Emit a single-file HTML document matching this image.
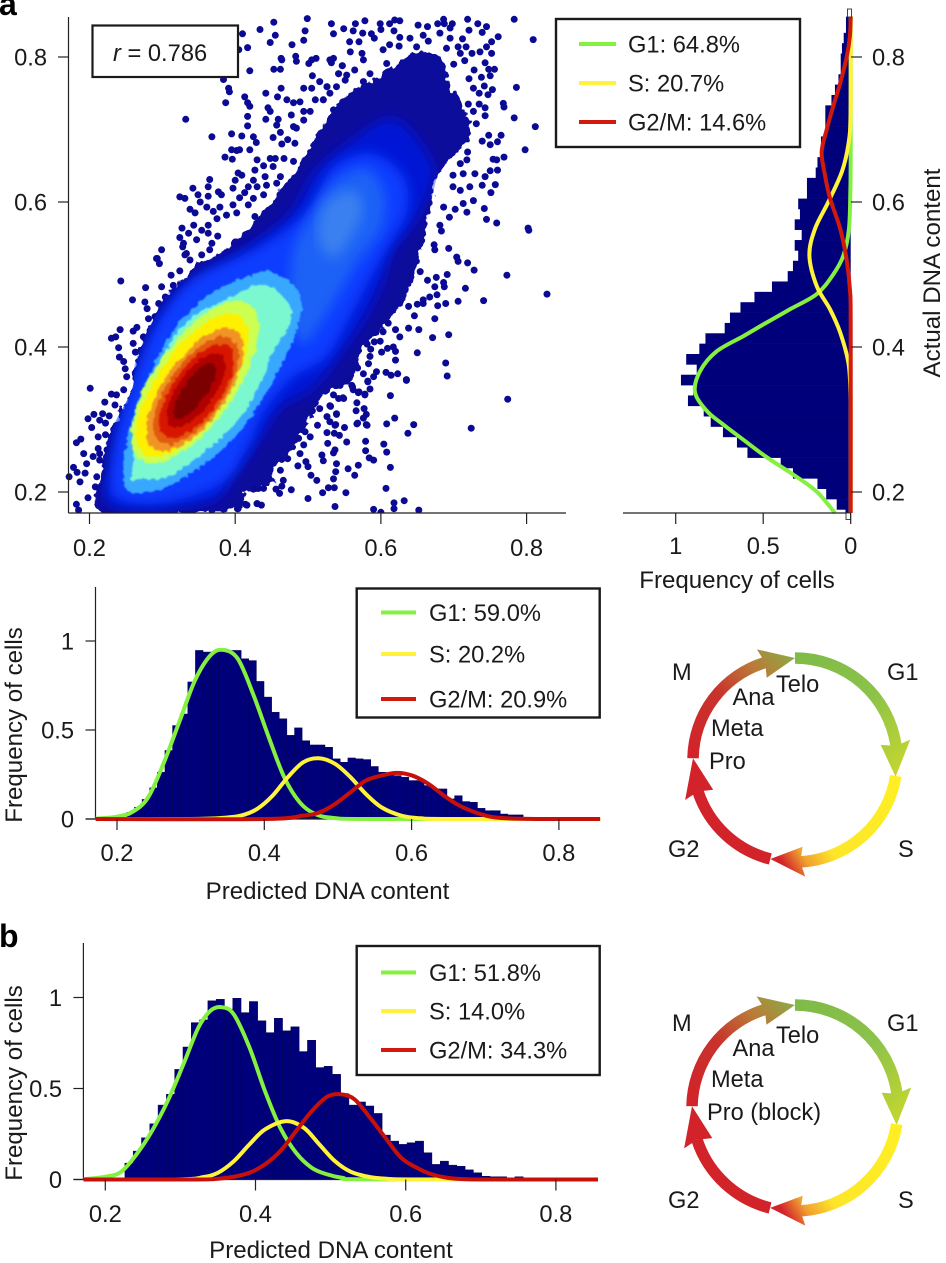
<!DOCTYPE html>
<html lang="en">
<head>
<meta charset="utf-8">
<title>DNA content prediction</title>
<style>
html,body{margin:0;padding:0;background:#fff;width:946px;height:1263px;overflow:hidden}
svg{display:block}
text{font-family:"Liberation Sans",Arial,sans-serif;fill:#1a1a1a;font-size:23.7px}
.title{font-size:24.1px}
.phase{font-size:23.6px}
</style>
</head>
<body>
<svg id="figure" xmlns="http://www.w3.org/2000/svg" width="946" height="1263" viewBox="0 0 946 1263">
<defs>
<filter id="bumpy" x="-5%" y="-5%" width="110%" height="110%">
<feTurbulence type="fractalNoise" baseFrequency="0.22" numOctaves="1" seed="4" result="n"/>
<feDisplacementMap in="SourceGraphic" in2="n" scale="7" xChannelSelector="R" yChannelSelector="G"/>
<feGaussianBlur stdDeviation="0.7"/>
</filter>
<filter id="rough" x="-5%" y="-5%" width="110%" height="110%">
<feTurbulence type="fractalNoise" baseFrequency="0.13" numOctaves="2" seed="9" result="n"/>
<feDisplacementMap in="SourceGraphic" in2="n" scale="11" xChannelSelector="R" yChannelSelector="G"/>
</filter>
<filter id="softer" x="-10%" y="-10%" width="120%" height="120%"><feGaussianBlur stdDeviation="6"/></filter>
<clipPath id="scatterClip"><rect x="60" y="10" width="510" height="503"/></clipPath>
<clipPath id="marginClip"><rect x="620" y="16.6" width="232" height="496.4"/></clipPath>
<clipPath id="massClip"></clipPath>
<linearGradient id="gradG1" gradientUnits="userSpaceOnUse" x1="0" y1="-102" x2="100" y2="17"><stop offset="0" stop-color="#7fbb47"/><stop offset=".5" stop-color="#8cc24a"/><stop offset="1" stop-color="#c4d62f"/></linearGradient>
<linearGradient id="gradS" gradientUnits="userSpaceOnUse" x1="100" y1="20" x2="-25" y2="100"><stop offset="0" stop-color="#ffee24"/><stop offset=".62" stop-color="#fde62a"/><stop offset=".8" stop-color="#f0a030"/><stop offset=".94" stop-color="#d2232a"/></linearGradient>
<linearGradient id="gradM" gradientUnits="userSpaceOnUse" x1="-100" y1="0" x2="0" y2="-102"><stop offset="0" stop-color="#d2232a"/><stop offset=".45" stop-color="#c8332c"/><stop offset=".75" stop-color="#bb7a38"/><stop offset="1" stop-color="#8fa845"/></linearGradient>
</defs>

<text x="-1" y="15" style="font-size:32px;font-weight:bold;fill:#000">a</text>
<text x="-1" y="947" style="font-size:32px;font-weight:bold;fill:#000">b</text>

<g id="scatterPanel"></g>
<g id="marginPanel"></g>
<g id="histA"></g>
<g id="histB"></g>
<g id="cycleA" transform="translate(795 760)"></g>
<g id="cycleB" transform="translate(795 1108)"></g>

<g>
<rect x="92.5" y="25.5" width="145.5" height="51.5" fill="#fff" stroke="#1a1a1a" stroke-width="2.2"/>
<text x="113" y="61"><tspan font-style="italic">r</tspan> = 0.786</text>
</g>
<g>
<text class="title" x="0" y="0" text-anchor="middle" transform="translate(940 273) rotate(-90)">Actual DNA content</text>
<text class="title" x="737" y="588" text-anchor="middle">Frequency of cells</text>
<text class="title" x="327.5" y="899" text-anchor="middle">Predicted DNA content</text>
<text class="title" x="331" y="1258" text-anchor="middle">Predicted DNA content</text>
<text class="title" x="0" y="0" text-anchor="middle" transform="translate(22 725) rotate(-90)">Frequency of cells</text>
<text class="title" x="0" y="0" text-anchor="middle" transform="translate(22 1083) rotate(-90)">Frequency of cells</text>
</g>

<g>
<rect x="556" y="19" width="244" height="128" fill="#fff" stroke="#1a1a1a" stroke-width="2.4"/>
<line x1="579" x2="616" y1="44" y2="44" stroke="#84f040" stroke-width="4"/><text x="628" y="52.5">G1: 64.8%</text>
<line x1="579" x2="616" y1="83" y2="83" stroke="#fff23a" stroke-width="4"/><text x="628" y="91.5">S: 20.7%</text>
<line x1="579" x2="616" y1="122" y2="122" stroke="#d21a0c" stroke-width="4"/><text x="628" y="130.5">G2/M: 14.6%</text>
</g>
<g>
<rect x="356.7" y="588.5" width="243" height="129" fill="#fff" stroke="#1a1a1a" stroke-width="2.4"/>
<line x1="381" x2="416" y1="612.5" y2="612.5" stroke="#84f040" stroke-width="4"/><text x="429" y="621">G1: 59.0%</text>
<line x1="381" x2="416" y1="654" y2="654" stroke="#fff23a" stroke-width="4"/><text x="429" y="662.5">S: 20.2%</text>
<line x1="381" x2="416" y1="699" y2="699" stroke="#d21a0c" stroke-width="4"/><text x="429" y="707.5">G2/M: 20.9%</text>
</g>
<g>
<rect x="356.7" y="946" width="243" height="129" fill="#fff" stroke="#1a1a1a" stroke-width="2.4"/>
<line x1="381" x2="416" y1="972.5" y2="972.5" stroke="#84f040" stroke-width="4"/><text x="429" y="981">G1: 51.8%</text>
<line x1="381" x2="416" y1="1011" y2="1011" stroke="#fff23a" stroke-width="4"/><text x="429" y="1019.5">S: 14.0%</text>
<line x1="381" x2="416" y1="1050" y2="1050" stroke="#d21a0c" stroke-width="4"/><text x="429" y="1058.5">G2/M: 34.3%</text>
</g>

<g>
<text class="phase" x="672" y="680">M</text>
<text class="phase" x="887" y="680">G1</text>
<text class="phase" x="732.5" y="705">Ana</text>
<text class="phase" x="776" y="692">Telo</text>
<text class="phase" x="711" y="736">Meta</text>
<text class="phase" x="709" y="769">Pro</text>
<text class="phase" x="668" y="857">G2</text>
<text class="phase" x="898" y="857">S</text>
</g>
<g>
<text class="phase" x="672" y="1031">M</text>
<text class="phase" x="887" y="1031">G1</text>
<text class="phase" x="732.5" y="1056">Ana</text>
<text class="phase" x="776" y="1043">Telo</text>
<text class="phase" x="711" y="1087">Meta</text>
<text class="phase" x="707" y="1120">Pro (block)</text>
<text class="phase" x="668" y="1208">G2</text>
<text class="phase" x="898" y="1208">S</text>
</g>
</svg>

<script>
/* ---------- scatter data: [predicted, actual] ---------- */
const scatterTopPoints = [[.532,.846],[.535,.832],[.549,.839],[.562,.836],[.565,.846],[.578,.850],[.575,.833],[.587,.832],[.591,.826],[.599,.846],[.600,.838],[.612,.846],[.619,.851],[.626,.850],[.618,.836],[.626,.827],[.640,.826],[.651,.844],[.664,.842],[.678,.846],[.686,.852],[.687,.846],[.698,.846],[.695,.840],[.719,.852],[.721,.837],[.733,.846],[.745,.842],[.739,.834],[.761,.828],[.752,.821],[.783,.852],[.809,.824],[.557,.821],[.570,.821],[.558,.807],[.603,.810],[.612,.817],[.649,.814],[.658,.830],[.681,.833],[.695,.826],[.712,.825],[.745,.814],[.717,.814],[.706,.814],[.709,.805],[.725,.805],[.736,.807],[.752,.805],[.743,.792],[.748,.783],[.756,.783],[.750,.774],[.738,.772],[.721,.770],[.742,.760],[.753,.755],[.727,.757],[.747,.748],[.786,.758],[.768,.736],[.769,.731],[.743,.730],[.783,.716],[.727,.725],[.743,.719],[.812,.704],[.731,.708],[.748,.692],[.765,.692],[.739,.684],[.750,.679],[.760,.683],[.798,.672],[.754,.659],[.759,.658],[.769,.662],[.719,.669],[.750,.643],[.760,.644],[.743,.635],[.722,.621],[.739,.623],[.757,.624],[.751,.613],[.727,.602],[.742,.591],[.745,.576],[.759,.571],[.802,.564],[.535,.798],[.547,.788],[.530,.796],[.542,.777],[.553,.775],[.551,.768],[.539,.759],[.526,.759],[.521,.741],[.535,.727],[.574,.805],[.576,.796],[.564,.782],[.585,.777],[.576,.766],[.594,.750],[.608,.791],[.718,.658],[.709,.653],[.729,.639],[.713,.639],[.699,.637],[.702,.590],[.713,.598],[.718,.586],[.681,.568],[.694,.579],[.699,.621],[.709,.616],[.686,.593],[.499,.853],[.453,.848],[.410,.832],[.434,.838],[.455,.830],[.496,.836],[.494,.823],[.448,.820],[.478,.817],[.417,.813],[.405,.810],[.463,.798],[.483,.801],[.511,.798],[.501,.791],[.625,.815],[.690,.812],[.665,.822],[.715,.795],[.700,.790],[.728,.782],[.735,.750],[.720,.735],[.735,.735]];
const scatterUpperLeftPoints = [[.420,.781],[.453,.783],[.462,.783],[.464,.796],[.484,.794],[.505,.796],[.532,.792],[.547,.788],[.542,.777],[.506,.774],[.384,.769],[.391,.757],[.392,.752],[.413,.745],[.442,.750],[.463,.757],[.458,.745],[.471,.741],[.480,.737],[.489,.738],[.494,.757],[.505,.757],[.516,.766],[.526,.759],[.510,.741],[.521,.741],[.530,.750],[.387,.737],[.417,.737],[.420,.732],[.445,.730],[.448,.725],[.332,.714],[.417,.718],[.442,.714],[.459,.714],[.457,.706],[.417,.705],[.477,.720],[.494,.725],[.503,.725],[.480,.704],[.484,.702],[.494,.713],[.368,.690],[.395,.694],[.409,.691],[.425,.690],[.429,.682],[.452,.689],[.462,.696],[.464,.680],[.472,.686],[.482,.681],[.395,.672],[.402,.671],[.406,.672],[.420,.672],[.386,.662],[.396,.659],[.430,.658],[.448,.660],[.455,.660],[.467,.660],[.480,.656],[.439,.650],[.427,.644],[.452,.649],[.365,.631],[.404,.640],[.409,.637],[.400,.630],[.425,.630],[.441,.635],[.462,.635],[.342,.619],[.363,.621],[.397,.619],[.418,.621],[.349,.610],[.324,.607],[.331,.605],[.363,.608],[.377,.614],[.381,.610],[.406,.606],[.413,.613],[.430,.621],[.443,.623],[.439,.610],[.457,.626],[.425,.605],[.352,.600],[.361,.593],[.338,.590],[.345,.585],[.379,.593],[.397,.596],[.370,.587],[.418,.596],[.388,.582],[.402,.585],[.375,.577],[.427,.580],[.327,.564],[.343,.568],[.363,.568],[.354,.561],[.336,.557],[.363,.557],[.324,.551],[.347,.548],[.376,.553],[.299,.534],[.328,.538],[.293,.522],[.333,.529],[.368,.543],[.354,.527],[.365,.534]];
const scatterLowerLeftPoints = [[.329,.543],[.292,.522],[.296,.515],[.331,.527],[.338,.520],[.243,.491],[.277,.482],[.312,.499],[.324,.505],[.299,.483],[.315,.485],[.259,.465],[.276,.462],[.304,.469],[.279,.453],[.295,.460],[.242,.424],[.281,.439],[.290,.442],[.260,.422],[.265,.427],[.230,.412],[.236,.414],[.274,.414],[.260,.405],[.240,.399],[.263,.393],[.279,.407],[.241,.386],[.247,.380],[.249,.370],[.251,.359],[.201,.343],[.230,.335],[.237,.334],[.247,.341],[.221,.324],[.235,.320],[.206,.307],[.198,.301],[.218,.308],[.227,.305],[.214,.299],[.222,.295],[.203,.289],[.212,.276],[.222,.279],[.182,.268],[.188,.273],[.212,.260],[.192,.253],[.205,.249],[.214,.253],[.224,.258],[.196,.239],[.178,.234],[.183,.227],[.214,.244],[.172,.221],[.194,.226],[.187,.214],[.210,.221],[.224,.226],[.208,.207],[.214,.203],[.198,.192],[.182,.183],[.185,.175],[.212,.182],[.226,.180],[.263,.173],[.240,.175],[.279,.173],[.301,.173],[.317,.177],[.333,.173],[.368,.175],[.356,.180],[.404,.177],[.416,.182],[.430,.184],[.436,.182],[.400,.193],[.382,.193],[.368,.189],[.327,.193],[.340,.186],[.430,.205],[.404,.209],[.418,.212],[.427,.216],[.436,.230],[.430,.235],[.416,.230],[.439,.205]];
const scatterRightPoints = [[.683,.560],[.803,.561],[.693,.536],[.673,.541],[.674,.534],[.704,.524],[.706,.518],[.719,.516],[.728,.506],[.773,.499],[.691,.500],[.654,.504],[.676,.496],[.664,.492],[.686,.489],[.687,.483],[.716,.481],[.828,.473],[.674,.483],[.677,.472],[.667,.469],[.658,.465],[.706,.463],[.741,.464],[.689,.460],[.678,.457],[.658,.460],[.650,.459],[.638,.456],[.614,.452],[.646,.443],[.674,.439],[.620,.424],[.638,.426],[.652,.424],[.626,.414],[.671,.413],[.693,.417],[.584,.416],[.603,.421],[.610,.433],[.590,.430],[.591,.407],[.599,.408],[.581,.404],[.586,.397],[.601,.393],[.609,.398],[.617,.400],[.650,.392],[.620,.394],[.620,.382],[.689,.378],[.585,.387],[.583,.377],[.568,.371],[.594,.366],[.607,.365],[.614,.361],[.623,.363],[.590,.359],[.576,.363],[.555,.357],[.582,.353],[.635,.354],[.691,.360],[.585,.342],[.560,.347],[.544,.347],[.562,.341],[.569,.337],[.578,.335],[.613,.333],[.774,.328],[.548,.330],[.542,.329],[.567,.323],[.531,.318],[.577,.315],[.566,.312],[.580,.307],[.539,.307],[.619,.302],[.576,.302],[.567,.294],[.580,.293],[.608,.294],[.645,.293],[.724,.288],[.550,.289],[.537,.292]];
const scatterBottomPoints = [[.582,.352],[.635,.355],[.578,.334],[.570,.338],[.561,.345],[.535,.334],[.549,.329],[.530,.319],[.516,.315],[.506,.312],[.510,.323],[.539,.308],[.526,.304],[.530,.297],[.538,.293],[.513,.292],[.568,.295],[.581,.292],[.637,.281],[.496,.283],[.503,.276],[.526,.282],[.536,.281],[.543,.278],[.553,.269],[.579,.270],[.604,.266],[.527,.267],[.487,.274],[.473,.279],[.466,.267],[.494,.265],[.537,.258],[.535,.254],[.579,.257],[.608,.255],[.489,.253],[.519,.251],[.521,.243],[.584,.247],[.590,.244],[.539,.239],[.569,.237],[.613,.234],[.486,.236],[.497,.242],[.500,.235],[.472,.246],[.464,.245],[.450,.251],[.555,.232],[.538,.228],[.504,.223],[.564,.223],[.535,.218],[.512,.216],[.462,.230],[.441,.229],[.430,.235],[.426,.217],[.466,.216],[.446,.219],[.528,.206],[.536,.206],[.607,.205],[.477,.203],[.464,.208],[.440,.213],[.425,.204],[.456,.204],[.432,.205],[.461,.198],[.552,.199],[.520,.199],[.500,.191],[.398,.194],[.411,.205],[.402,.205],[.632,.188],[.618,.185],[.618,.177],[.414,.183],[.430,.184],[.403,.177],[.537,.180],[.590,.176],[.600,.172],[.652,.175]];

/* density contours in data units, outermost first */
const contourMass = [[.221,.171],[.220,.234],[.228,.281],[.258,.341],[.265,.386],[.304,.469],[.335,.497],[.352,.517],[.393,.538],[.448,.599],[.493,.658],[.540,.735],[.600,.775],[.645,.805],[.680,.800],[.695,.760],[.708,.740],[.725,.700],[.710,.675],[.685,.648],[.677,.634],[.667,.589],[.660,.548],[.640,.483],[.632,.465],[.600,.423],[.575,.400],[.560,.354],[.520,.331],[.480,.262],[.450,.230],[.455,.212],[.416,.203],[.393,.175]];
const contourDenseBlue = [[.229,.180],[.232,.238],[.240,.292],[.268,.361],[.292,.435],[.341,.490],[.402,.528],[.473,.582],[.509,.641],[.560,.685],[.616,.715],[.661,.671],[.672,.631],[.646,.572],[.616,.533],[.600,.484],[.575,.435],[.534,.376],[.504,.341],[.463,.317],[.433,.272],[.397,.223],[.362,.185]];
const contourBrightBlue = [[.228,.217],[.245,.309],[.286,.419],[.335,.488],[.396,.520],[.442,.543],[.499,.588],[.534,.647],[.585,.667],[.630,.637],[.636,.588],[.610,.539],[.585,.494],[.560,.446],[.525,.386],[.478,.357],[.438,.308],[.417,.262],[.382,.212],[.304,.185],[.242,.189]];
const contourSecondMode = [[.478,.523],[.498,.572],[.534,.626],[.580,.646],[.605,.611],[.600,.562],[.565,.513],[.524,.444],[.493,.405],[.478,.444]];
const contourSecondPeak = [[.514,.552],[.524,.597],[.560,.616],[.575,.592],[.560,.552],[.534,.523]];
const contourLightBlue = [[.246,.217],[.260,.303],[.304,.406],[.359,.469],[.418,.497],[.451,.503],[.489,.472],[.482,.417],[.437,.327],[.386,.262],[.317,.212],[.269,.199]];
const contourCyan = [[.258,.226],[.276,.327],[.327,.428],[.396,.469],[.441,.486],[.478,.446],[.448,.386],[.437,.354],[.396,.290],[.317,.226],[.269,.217]];
/* central lobe: centre x, centre y, semi-major, semi-minor (data units) */
const coreLime = [.345,.352,.130,.056];
const coreYellow = [.341,.347,.115,.048];
const coreOrange = [.345,.341,.099,.043];
const coreDeepOrange = [.346,.340,.086,.038];
const coreRed = [.347,.339,.075,.033];
const coreCrimson = [.346,.340,.060,.025];
const coreDarkRed = [.345,.340,.045,.016];

/* marginal histogram (frequency per actual-DNA bin, bottom to top) */
const marginBinStart = .1617;
const marginBinWidth = .01429;
const marginFreq = [.03,.08,.14,.19,.33,.40,.59,.65,.73,.80,.84,.93,.90,.97,.88,.94,.865,.83,.72,.69,.63,.55,.45,.36,.33,.30,.32,.28,.32,.29,.30,.25,.25,.20,.19,.17,.17,.145,.145,.145,.11,.09,.07,.057,.057,.05,.04,.027,.027];
const marginG1 = [[.171,.09],[.2005,.194],[.224,.328],[.248,.48],[.272,.613],[.293,.728],[.312,.823],[.338,.89],[.367,.86],[.394,.766],[.415,.613],[.431,.50],[.452,.347],[.473,.194],[.50,.10],[.526,.042],[.563,.01],[.616,.002],[.669,0],[.856,0]];
const marginS = [[.171,0],[.30,0],[.335,.001],[.378,.013],[.42,.06],[.452,.118],[.484,.194],[.526,.236],[.563,.204],[.60,.128],[.642,.05],[.68,.013],[.722,.001],[.856,0]];
const marginG2M = [[.171,0],[.43,0],[.478,.004],[.52,.023],[.563,.06],[.605,.118],[.637,.147],[.669,.166],[.70,.137],[.732,.10],[.764,.06],[.80,.023],[.828,.005],[.856,0]];

/* predicted histogram a */
const histABinStart = .2185;
const histABinWidth = .01035;
const histAFreq = [.038,.066,.11,.175,.263,.385,.525,.59,.77,.947,.938,.938,.957,.947,.947,.90,.89,.773,.685,.60,.563,.47,.512,.44,.416,.416,.403,.338,.319,.343,.338,.334,.295,.263,.257,.244,.235,.216,.216,.188,.169,.169,.113,.131,.098,.094,.06,.047,.047,.028,.023,.023,.009,.003];
const histAG1 = [[.171,.002],[.2,.013],[.221,.04],[.242,.12],[.263,.31],[.285,.55],[.306,.78],[.327,.92],[.344,.95],[.364,.90],[.385,.70],[.406,.46],[.427,.235],[.448,.094],[.469,.028],[.496,.005],[.55,0],[.856,0]];
const histAS = [[.171,0],[.30,0],[.348,.008],[.369,.02],[.39,.056],[.411,.13],[.432,.235],[.453,.319],[.474,.341],[.496,.31],[.517,.235],[.538,.14],[.559,.066],[.586,.019],[.612,.004],[.65,0],[.856,0]];
const histAG2M = [[.171,0],[.40,0],[.453,.019],[.475,.037],[.496,.084],[.517,.15],[.538,.216],[.559,.244],[.58,.259],[.601,.244],[.623,.197],[.644,.131],[.665,.075],[.686,.038],[.707,.013],[.728,.004],[.77,0],[.856,0]];

/* predicted histogram b */
const histBBinStart = .2316;
const histBBinWidth = .01105;
const histBFreq = [.09,.156,.229,.306,.409,.468,.605,.728,.862,.877,.982,.99,.936,.996,.917,.978,.872,.807,.886,.817,.839,.703,.765,.615,.622,.578,.472,.409,.426,.404,.363,.244,.211,.193,.202,.211,.147,.083,.101,.079,.073,.053,.037,.018,.015,.015,.007,.015,.004,.004,.003,.005,.002,.002,.002,.006,.002];
const histBG1 = [[.171,.001],[.2,.015],[.221,.042],[.2415,.138],[.262,.266],[.283,.431],[.304,.633],[.324,.835],[.34,.927],[.3545,.947],[.371,.908],[.392,.725],[.4126,.486],[.433,.284],[.454,.147],[.475,.064],[.4955,.028],[.516,.009],[.55,.001],[.856,0]];
const histBS = [[.171,0],[.30,.001],[.33,.013],[.35,.037],[.371,.10],[.392,.193],[.4126,.275],[.441,.321],[.4645,.284],[.485,.193],[.506,.10],[.527,.042],[.5526,.013],[.5785,.003],[.62,0],[.856,0]];
const histBG2M = [[.171,0],[.32,0],[.35,.004],[.371,.015],[.392,.037],[.4126,.083],[.433,.156],[.454,.266],[.475,.376],[.4955,.455],[.5137,.468],[.532,.44],[.5526,.339],[.573,.229],[.594,.119],[.615,.064],[.635,.028],[.656,.009],[.677,.002],[.71,0],[.856,0]];

const dnaTicks = [.2,.4,.6,.8];
const dnaTickLabels = ['0.2','0.4','0.6','0.8'];
const freqTicks = [0,.5,1];
const freqTickLabels = ['0','0.5','1'];

/* cell-cycle arcs: degrees clockwise from top */
const cyclePhases = ['g1','s','g2','m'];
const cycleShaftStart = [0,99,194,271];
const cycleShaftEnd = [80,175,250,341];
const cycleArrowTip = [99.5,194,271,360];

/* ---------- axis functions ---------- */
const scatterX = v => 89.5 + (v - .2) * 728.5;
const scatterY = v => 492 - (v - .2) * 725;
const marginX = f => 850.7 - f * 175;
const histAX = v => 117 + (v - .2) * 736.5;
const histAY = f => 819 - f * 178;
const histBX = v => 105.3 + (v - .2) * 751;
const histBY = f => 1179.5 - f * 182;

const NS = 'http://www.w3.org/2000/svg';
function mk(tag, attrs, parent) {
  const el = document.createElementNS(NS, tag);
  for (const k in attrs) el.setAttribute(k, attrs[k]);
  parent.appendChild(el);
  return el;
}
function smoothOpen(p) {
  let d = 'M' + p[0][0].toFixed(2) + ' ' + p[0][1].toFixed(2);
  for (let i = 0; i < p.length - 1; i++) {
    const a = p[Math.max(0, i - 1)], b = p[i], c = p[i + 1], e = p[Math.min(p.length - 1, i + 2)];
    d += 'C' + (b[0] + (c[0] - a[0]) / 6).toFixed(2) + ' ' + (b[1] + (c[1] - a[1]) / 6).toFixed(2) + ' ' +
      (c[0] - (e[0] - b[0]) / 6).toFixed(2) + ' ' + (c[1] - (e[1] - b[1]) / 6).toFixed(2) + ' ' + c[0].toFixed(2) + ' ' + c[1].toFixed(2);
  }
  return d;
}
function smoothClosed(p) {
  const n = p.length;
  let d = 'M' + p[0][0].toFixed(2) + ' ' + p[0][1].toFixed(2);
  for (let i = 0; i < n; i++) {
    const a = p[(i - 1 + n) % n], b = p[i], c = p[(i + 1) % n], e = p[(i + 2) % n];
    d += 'C' + (b[0] + (c[0] - a[0]) / 6).toFixed(2) + ' ' + (b[1] + (c[1] - a[1]) / 6).toFixed(2) + ' ' +
      (c[0] - (e[0] - b[0]) / 6).toFixed(2) + ' ' + (c[1] - (e[1] - b[1]) / 6).toFixed(2) + ' ' + c[0].toFixed(2) + ' ' + c[1].toFixed(2);
  }
  return d + 'Z';
}

/* ---------- scatter ---------- */
const sp = document.getElementById('scatterPanel');
const sClip = mk('g', {'clip-path': 'url(#scatterClip)'}, sp);


function drawContour(parent, data, fill, name, filter) {
  const el = mk('path', {d: smoothClosed(data.map(p => [scatterX(p[0]), scatterY(p[1])])), fill: fill, filter: filter}, parent);
  
  
}
function drawCore(c, fill, name) {
  const el = mk('ellipse', {cx: scatterX(c[0]), cy: scatterY(c[1]), rx: c[2] * 728, ry: c[3] * 728, fill: fill, filter: 'url(#bumpy)',
    transform: 'rotate(-55 ' + scatterX(c[0]) + ' ' + scatterY(c[1]) + ')'}, sClip);
  
  
}
[scatterTopPoints, scatterUpperLeftPoints, scatterLowerLeftPoints, scatterRightPoints, scatterBottomPoints].forEach(group => {
  group.forEach(p => {
    const dot = mk('circle', {cx: scatterX(p[0]).toFixed(1), cy: scatterY(p[1]).toFixed(1), r: 3.5, fill: '#0a0a94'}, sClip);
    
    
  });
});
drawContour(sClip, contourMass, '#0a0a9c', 'density-outer-mass', 'url(#rough)');
const massPath = document.createElementNS(NS, 'path');
massPath.setAttribute('d', smoothClosed(contourMass.map(p => [scatterX(p[0]), scatterY(p[1])])));
document.getElementById('massClip').appendChild(massPath);
const innerBlue = mk('g', {'clip-path': 'url(#massClip)'}, sClip);


drawContour(innerBlue, contourDenseBlue, '#0412d6', 'density-dense-blue', 'url(#softer)');
drawContour(innerBlue, contourBrightBlue, '#0a3cff', 'density-bright-blue', 'url(#softer)');
drawContour(innerBlue, contourSecondMode, '#1c62f6', 'density-second-mode', 'url(#softer)');
drawContour(innerBlue, contourSecondPeak, '#3a80f0', 'density-second-peak', 'url(#softer)');
drawContour(sClip, contourLightBlue, '#38a8ff', 'density-light-blue', 'url(#bumpy)');
drawContour(sClip, contourCyan, '#7cf8d0', 'density-cyan', 'url(#bumpy)');
drawCore(coreLime, '#ccff50', 'density-lime');
drawCore(coreYellow, '#fff000', 'density-yellow');
drawCore(coreOrange, '#f09428', 'density-orange');
drawCore(coreDeepOrange, '#e25a10', 'density-deep-orange');
drawCore(coreRed, '#d81400', 'density-red');
drawCore(coreCrimson, '#b00000', 'density-crimson');
drawCore(coreDarkRed, '#7c0000', 'density-dark-red');

function axisLine(parent, x1, y1, x2, y2, name) {
  const l = mk('line', {x1: x1, y1: y1, x2: x2, y2: y2, stroke: '#222', 'stroke-width': 1.2}, parent);
  
  
}
function label(parent, x, y, txt, anchor, name) {
  const t = mk('text', {x: x, y: y, 'text-anchor': anchor}, parent);
  t.textContent = txt;
  
  
}
axisLine(sp, 68.5, 17, 68.5, 513, 'scatter-y-axis');
axisLine(sp, 68.5, 513, 566, 513, 'scatter-x-axis');
dnaTicks.forEach((v, i) => {
  axisLine(sp, scatterX(v), 513, scatterX(v), 524, 'scatter-x-tick');
  label(sp, scatterX(v), 556, dnaTickLabels[i], 'middle', 'scatter-x-tick-label');
  axisLine(sp, 58, scatterY(v), 68.5, scatterY(v), 'scatter-y-tick');
  label(sp, 47, scatterY(v) + 8.5, dnaTickLabels[i], 'end', 'scatter-y-tick-label');
});

/* ---------- marginal ---------- */
const mp = document.getElementById('marginPanel');
const mClip = mk('g', {'clip-path': 'url(#marginClip)'}, mp);


marginFreq.forEach((f, i) => {
  const yTop = scatterY(marginBinStart + (i + 1) * marginBinWidth);
  const yBot = scatterY(marginBinStart + i * marginBinWidth);
  const bar = mk('rect', {x: marginX(f), y: yTop, width: marginX(0) - marginX(f), height: yBot - yTop + .3, fill: '#00007a'}, mClip);
  
  
});
function drawMarginCurve(data, color, name) {
  const c = mk('path', {d: smoothOpen(data.map(p => [marginX(p[1]), scatterY(p[0])])), fill: 'none', stroke: color, 'stroke-width': 4}, mp);
  
  
}
drawMarginCurve(marginG1, '#84f040', 'marginal-curve-g1');
drawMarginCurve(marginS, '#fff23a', 'marginal-curve-s');
drawMarginCurve(marginG2M, '#d21a0c', 'marginal-curve-g2m');
axisLine(mp, 623, 513, 851, 513, 'marginal-x-axis');
const boxTop = mk('rect', {x: 847.5, y: 9, width: 4, height: 8, fill: '#fff', stroke: '#333', 'stroke-width': .9}, mp);


const boxBot = mk('rect', {x: 846, y: 513, width: 4.5, height: 6.5, fill: '#fff', stroke: '#333', 'stroke-width': .9}, mp);


freqTicks.forEach((f, i) => {
  axisLine(mp, marginX(f), 513, marginX(f), 524, 'marginal-x-tick');
  label(mp, marginX(f), 554, freqTickLabels[i], 'middle', 'marginal-x-tick-label');
});
dnaTicks.forEach((v, i) => {
  axisLine(mp, 851, scatterY(v), 862, scatterY(v), 'marginal-y-tick');
  label(mp, 872, scatterY(v) + 8.5, dnaTickLabels[i], 'start', 'marginal-y-tick-label');
});

/* ---------- predicted histograms ---------- */
function drawHist(root, xf, yf, start, width, freq, curves, geo) {
  freq.forEach((f, i) => {
    const x0 = xf(start + (i - .5) * width), x1 = xf(start + (i + .5) * width);
    const bar = mk('rect', {x: x0, y: yf(f), width: x1 - x0, height: yf(0) - yf(f), fill: '#00007a', stroke: '#00004e', 'stroke-width': .45}, root);
    
    
  });
  axisLine(root, geo.left, geo.top, geo.left, yf(0), 'histogram-y-axis');
  axisLine(root, geo.left - 10, yf(0), geo.right, yf(0), 'histogram-baseline');
  curves.forEach(c => {
    const p = mk('path', {d: smoothOpen(c.data.map(q => [xf(q[0]), yf(q[1])])), fill: 'none', stroke: c.color, 'stroke-width': 4, 'stroke-linejoin': 'round'}, root);
    
    
  });
  dnaTicks.forEach((v, i) => {
    axisLine(root, xf(v), yf(0), xf(v), yf(0) + 11, 'histogram-x-tick');
    label(root, xf(v), geo.xLabelY, dnaTickLabels[i], 'middle', 'histogram-x-tick-label');
  });
  freqTicks.forEach((f, i) => {
    axisLine(root, geo.left - 10, yf(f), geo.left, yf(f), 'histogram-y-tick');
    label(root, geo.yLabelX, yf(f) + 8.5, freqTickLabels[i], 'end', 'histogram-y-tick-label');
  });
}
drawHist(document.getElementById('histA'), histAX, histAY, histABinStart, histABinWidth, histAFreq, [
  {data: histAG1, color: '#84f040', name: 'curve-g1'},
  {data: histAS, color: '#fff23a', name: 'curve-s'},
  {data: histAG2M, color: '#c8100a', name: 'curve-g2m'}
], {left: 95.5, top: 587, right: 600, xLabelY: 861, yLabelX: 74});
drawHist(document.getElementById('histB'), histBX, histBY, histBBinStart, histBBinWidth, histBFreq, [
  {data: histBG1, color: '#84f040', name: 'curve-g1'},
  {data: histBS, color: '#fff23a', name: 'curve-s'},
  {data: histBG2M, color: '#c8100a', name: 'curve-g2m'}
], {left: 83.4, top: 943, right: 598, xLabelY: 1222, yLabelX: 62});

/* ---------- cell-cycle rings ---------- */
function polar(r, deg) {
  const a = deg * Math.PI / 180;
  return [r * Math.sin(a), -r * Math.cos(a)];
}
function drawCycle(root, R) {
  const grads = {g1: 'url(#gradG1)', s: 'url(#gradS)', g2: '#d2232a', m: 'url(#gradM)'};
  cyclePhases.forEach((ph, i) => {
    const a0 = polar(R, cycleShaftStart[i]), a1 = polar(R, cycleShaftEnd[i] + 2);
    const shaft = mk('path', {d: 'M' + a0[0] + ' ' + a0[1] + 'A' + R + ' ' + R + ' 0 0 1 ' + a1[0] + ' ' + a1[1], fill: 'none', stroke: grads[ph], 'stroke-width': 11.5}, root);
    
    
    const baseDeg = cycleShaftEnd[i];
    const o = polar(R + 15, baseDeg), n = polar(R - 15, baseDeg), neck = polar(R, cycleShaftEnd[i] + 2), t = polar(R, cycleArrowTip[i]);
    const head = mk('polygon', {points: [o, t, n, neck].map(q => q[0].toFixed(1) + ',' + q[1].toFixed(1)).join(' '), fill: grads[ph]}, root);
    
    
  });
}
drawCycle(document.getElementById('cycleA'), 102);
drawCycle(document.getElementById('cycleB'), 103);
</script>
</body>
</html>
